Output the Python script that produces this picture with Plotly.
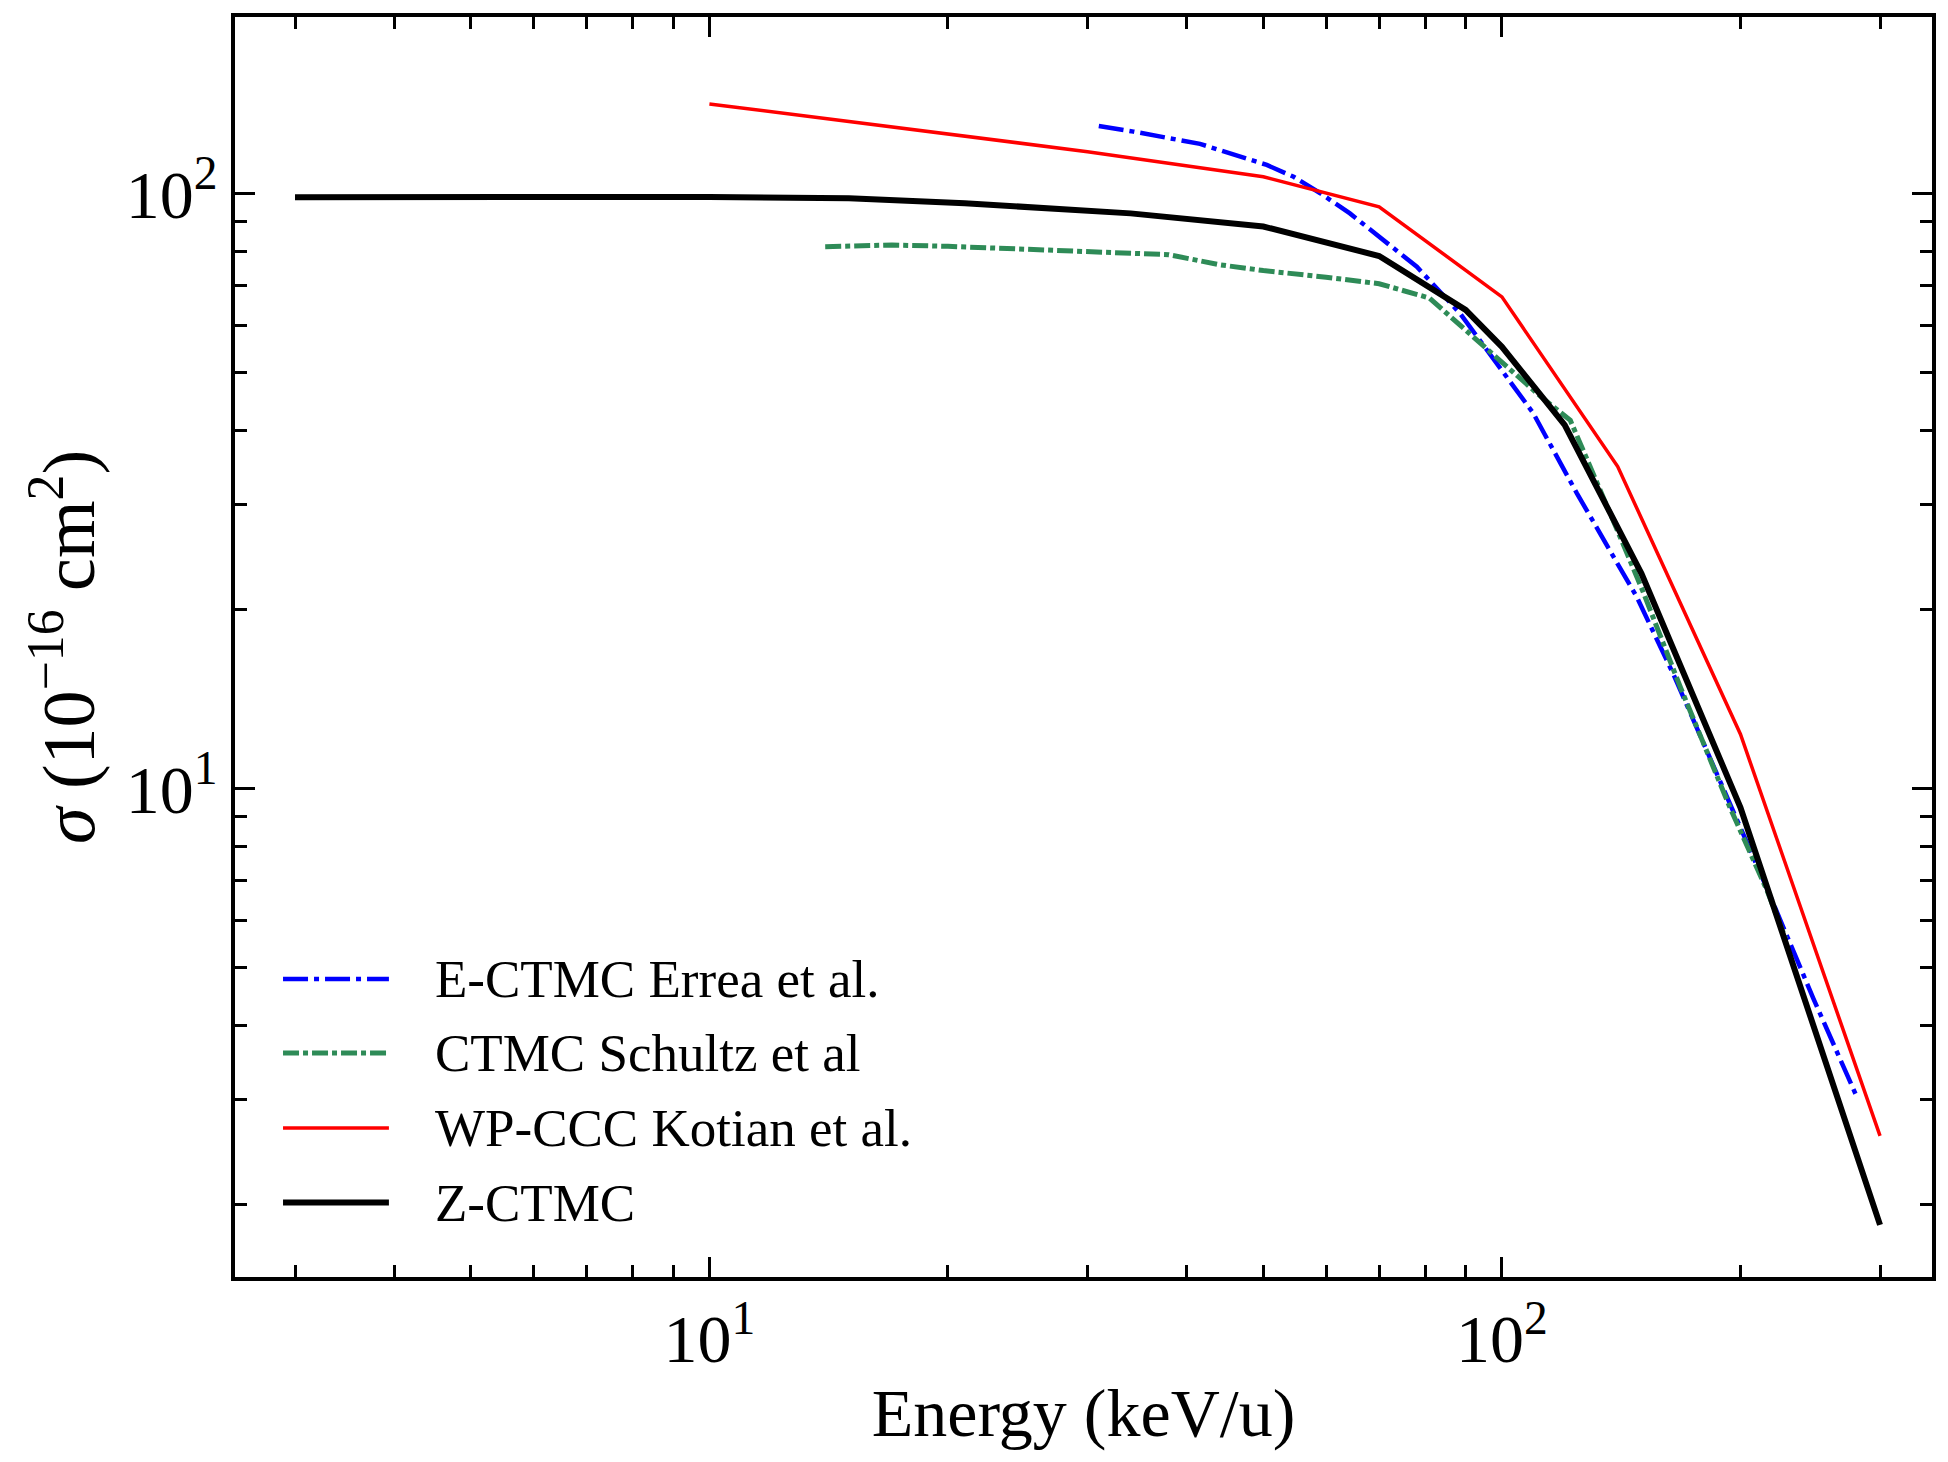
import plotly.graph_objects as go

# ---- data ----
ectmc_x = [31, 34.3, 41.6, 45.8, 50.5, 54.6, 59, 64.3, 78.1, 88.5, 98.5, 109.5, 124.3, 148, 164.6, 199.7, 215.8, 247.2, 280]
ectmc_y = [130, 127.2, 121.3, 116.7, 111.8, 106.8, 100.2, 92.7, 75.4, 63.0, 51.9, 42.8, 31.4, 21.0, 15.57, 8.64, 6.82, 4.44, 3.05]

ctmc_x = [14, 17, 20, 25, 30, 38, 44, 50, 60, 70, 81, 90, 100, 112, 122, 130, 141, 151, 168, 194, 216, 228]
ctmc_y = [81.5, 82.0, 81.6, 80.7, 80.1, 79.0, 76.0, 74.3, 72.4, 70.6, 66.8, 59.0, 52.2, 45.6, 41.6, 34.3, 26.5, 21.3, 14.8, 9.3, 6.75, 5.6]

wpccc_x = [10, 30, 50, 70, 100, 140, 200, 300]
wpccc_y = [141.6, 117.7, 106.8, 95.1, 67.1, 34.8, 12.35, 2.61]

zctmc_x = [3, 5, 8, 10, 15, 21, 34, 50, 70, 90, 100, 120, 150, 200, 300]
zctmc_y = [98.7, 98.8, 99.1, 98.8, 98.3, 96.4, 92.7, 88.1, 78.6, 63.8, 55.3, 40.9, 23.0, 9.3, 1.85]

names = ["E-CTMC Errea et al.", "CTMC Schultz et al", "WP-CCC Kotian et al.", "Z-CTMC"]
colors = ["#0000FF", "#2E8B57", "#FF0000", "#000000"]
dashes = ["25px,6px,5px,6px", "16px,4px,5px,4px", "solid", "solid"]
widths = [4.5, 5, 3.5, 6]

major_vals = [10, 100]
major_text = ["10<sup>1</sup>", "10<sup>2</sup>"]
x_minor = [3, 4, 5, 6, 7, 8, 9, 20, 30, 40, 50, 60, 70, 80, 90, 200, 300]
y_minor = [2, 3, 4, 5, 6, 7, 8, 9, 20, 30, 40, 50, 60, 70, 80, 90]

FONT = "Liberation Serif, Times New Roman, serif"

fig = go.Figure()
series = [(ectmc_x, ectmc_y), (ctmc_x, ctmc_y), (wpccc_x, wpccc_y), (zctmc_x, zctmc_y)]
for (xs, ys), n, c, d, w in zip(series, names, colors, dashes, widths):
    fig.add_trace(go.Scatter(x=xs, y=ys, mode="lines", name=n, showlegend=False,
                             line=dict(color=c, dash=d, width=w)))

# manual legend (long line samples as in the reference)
leg_y = [0.2365, 0.1778, 0.1183, 0.0591]
for n, c, d, w, yy in zip(names, colors, dashes, widths, leg_y):
    fig.add_shape(type="line", xref="paper", yref="paper", x0=0.0283, x1=0.0907, y0=yy, y1=yy,
                  line=dict(color=c, dash=d, width=w))
    fig.add_annotation(xref="paper", yref="paper", x=0.1167, y=yy, text=n, showarrow=False,
                       xanchor="left", yanchor="middle", font=dict(family=FONT, size=53, color="black"))

axis_common = dict(
    type="log", showline=True, linewidth=3.5, linecolor="black", mirror="allticks",
    ticks="inside", ticklen=20, tickwidth=2.5, tickcolor="black",
    tickmode="array", tickvals=major_vals, ticktext=major_text,
    tickfont=dict(family=FONT, size=68, color="black"),
    showgrid=False, zeroline=False,
)

fig.update_layout(
    width=1948, height=1462, autosize=False,
    margin=dict(l=235, r=16, t=17, b=185, pad=0),
    paper_bgcolor="white", plot_bgcolor="white",
    font=dict(family=FONT, color="black"),
    xaxis=dict(axis_common, range=[0.4014, 2.5427],
               minor=dict(tickmode="array", tickvals=x_minor, ticks="inside", ticklen=12,
                          tickwidth=2.5, tickcolor="black", showgrid=False),
               title=dict(text="Energy (keV/u)", font=dict(family=FONT, size=68), standoff=13)),
    yaxis=dict(axis_common, range=[0.1795, 2.2971],
               minor=dict(tickmode="array", tickvals=y_minor, ticks="inside", ticklen=12,
                          tickwidth=2.5, tickcolor="black", showgrid=False),
               title=dict(text="<i>σ</i> (10<sup>−16</sup> cm<sup>2</sup>)", font=dict(family=FONT, size=74), standoff=8)),
)

fig.write_html("out.html")
